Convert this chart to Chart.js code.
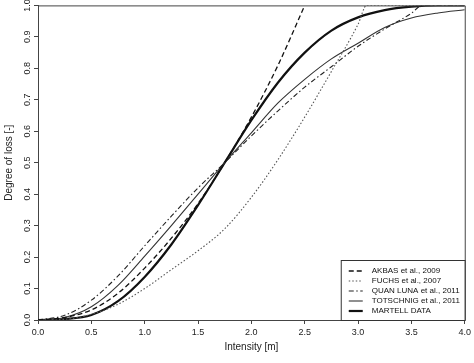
<!DOCTYPE html>
<html>
<head>
<meta charset="utf-8">
<script src="https://cdn.jsdelivr.net/npm/chart.js@4.4.0/dist/chart.umd.min.js"></script>
<style>
  html, body { margin: 0; padding: 0; background: #fff; }
  #wrap { width: 474px; height: 363px; }
</style>
</head>
<body>
<div id="wrap"><canvas id="lossChart"></canvas></div>
<script>

// intensity [m] and degree of loss [-]
var akbasX = [0, 0.25, 0.5, 0.75, 1.0, 1.25, 1.5, 1.75, 2.0, 2.25, 2.5];
var akbasY = [0, 0.008, 0.032, 0.085, 0.165, 0.26, 0.37, 0.50, 0.645, 0.81, 1.0];

var fuchsX = [0, 0.25, 0.5, 0.75, 1.0, 1.25, 1.5, 1.75, 2.0, 2.25, 2.5, 2.75, 3.0, 3.08, 3.5, 4.0];
var fuchsY = [0, 0.002, 0.018, 0.05, 0.1, 0.16, 0.22, 0.29, 0.39, 0.51, 0.645, 0.79, 0.94, 1.0, 1.0, 1.0];

var quanX = [0, 0.25, 0.5, 0.75, 1.0, 1.25, 1.5, 1.75, 2.0, 2.25, 2.5, 2.75, 3.0, 3.25, 3.5, 3.6, 4.0];
var quanY = [0, 0.015, 0.063, 0.14, 0.236, 0.33, 0.42, 0.50, 0.585, 0.665, 0.74, 0.805, 0.87, 0.925, 0.975, 1.0, 1.0];

var totschnigX = [0, 0.25, 0.5, 0.75, 1.0, 1.25, 1.5, 1.75, 2.0, 2.25, 2.5, 2.75, 3.0, 3.25, 3.5, 3.75, 4.0];
var totschnigY = [0, 0.008, 0.042, 0.11, 0.203, 0.30, 0.40, 0.50, 0.595, 0.69, 0.765, 0.83, 0.88, 0.93, 0.96, 0.976, 0.986];

var martellX = [0, 0.25, 0.5, 0.75, 1.0, 1.25, 1.5, 1.75, 2.0, 2.25, 2.5, 2.75, 3.0, 3.25, 3.5, 3.75, 4.0];
var martellY = [0, 0.003, 0.016, 0.06, 0.137, 0.24, 0.365, 0.50, 0.635, 0.755, 0.85, 0.92, 0.962, 0.985, 0.996, 1.0, 1.0];

var seriesNames = ["AKBAS et al., 2009", "FUCHS et al., 2007", "QUAN LUNA et al., 2011", "TOTSCHNIG et al., 2011", "MARTELL DATA"];

function toPoints(xs, ys) {
  var pts = [];
  for (var i = 0; i < xs.length; i++) {
    pts.push({ x: xs[i], y: ys[i] });
  }
  return pts;
}

// legend box in the lower right corner, drawn like the R one
var boxLegend = {
  id: "boxLegend",
  afterDatasetsDraw: function(chart) {
    var ctx = chart.ctx;
    var area = chart.chartArea;
    var sets = chart.data.datasets;
    var w = 124, rowH = 10;
    var h = sets.length * rowH + 10;
    var x0 = area.right - w, y0 = area.bottom - h;

    ctx.save();
    ctx.fillStyle = "#fff";
    ctx.fillRect(x0, y0, w, h);
    ctx.strokeStyle = "#333";
    ctx.lineWidth = 1;
    ctx.strokeRect(x0 + 0.5, y0 + 0.5, w, h);

    ctx.font = "8px 'Liberation Sans', Arial, sans-serif";
    ctx.textBaseline = "middle";
    ctx.fillStyle = "#111";
    for (var i = 0; i < sets.length; i++) {
      var ds = sets[i];
      var yy = y0 + 11 + i * rowH;
      ctx.beginPath();
      ctx.setLineDash(ds.borderDash || []);
      ctx.strokeStyle = ds.borderColor;
      ctx.lineWidth = ds.borderWidth;
      ctx.moveTo(x0 + 8, yy);
      ctx.lineTo(x0 + 22, yy);
      ctx.stroke();
      ctx.setLineDash([]);
      ctx.fillText(ds.label, x0 + 31, yy);
    }
    ctx.restore();
  }
};

var frameBox = {
  id: "frameBox",
  afterDraw: function(chart) {
    var ctx = chart.ctx;
    var a = chart.chartArea;
    ctx.save();
    ctx.strokeStyle = "#444";
    ctx.lineWidth = 1;
    ctx.beginPath();
    ctx.moveTo(a.left, a.top + 0.5);
    ctx.lineTo(a.right + 0.5, a.top + 0.5);
    ctx.lineTo(a.right + 0.5, a.bottom);
    ctx.stroke();
    ctx.restore();
  }
};

function init() {

  var ctx = document.getElementById("lossChart").getContext("2d");

  var chart = new Chart(ctx, {
    type: "line",
    data: {
      datasets: [
        {
          label: seriesNames[0],
          data: toPoints(akbasX, akbasY),
          borderColor: "#111",
          borderWidth: 1.3,
          borderDash: [5, 3]
        },
        {
          label: seriesNames[1],
          data: toPoints(fuchsX, fuchsY),
          borderColor: "#555",
          borderWidth: 1.1,
          borderDash: [1.5, 2]
        },
        {
          label: seriesNames[2],
          data: toPoints(quanX, quanY),
          borderColor: "#222",
          borderWidth: 1.1,
          borderDash: [5, 2.5, 1.5, 2.5]
        },
        {
          label: seriesNames[3],
          data: toPoints(totschnigX, totschnigY),
          borderColor: "#333",
          borderWidth: 1.1
        },
        {
          label: seriesNames[4],
          data: toPoints(martellX, martellY),
          borderColor: "#111",
          borderWidth: 2.2
        }
      ]
    },
    options: {
      responsive: false,
      animation: false,
      devicePixelRatio: 1,
      layout: { padding: { top: 5, right: 9, left: 0, bottom: 0 } },
      elements: {
        point: { radius: 0 },
        line: { cubicInterpolationMode: "monotone", fill: false }
      },
      plugins: {
        legend: { display: false },
        tooltip: { enabled: false }
      },
      scales: {
        x: {
          type: "linear",
          min: 0,
          max: 4,
          afterFit: function(scale) { scale.height = 43; },
          grid: { display: true, drawOnChartArea: false, tickLength: 4, color: "#444" },
          border: { display: true, color: "#444", width: 1 },
          ticks: {
            stepSize: 0.5,
            padding: 3,
            color: "#222",
            font: { family: "'Liberation Sans', Arial, sans-serif", size: 9 },
            maxRotation: 0,
            callback: function(v) { return v.toFixed(1); }
          },
          title: {
            display: true,
            text: "Intensity [m]",
            color: "#222",
            padding: { top: 10, bottom: 10 },
            font: { family: "'Liberation Sans', Arial, sans-serif", size: 10 }
          }
        },
        y: {
          type: "linear",
          min: 0,
          max: 1,
          afterFit: function(scale) { scale.width = 38; },
          grid: { display: true, drawOnChartArea: false, tickLength: 4, color: "#444" },
          border: { display: true, color: "#444", width: 1 },
          ticks: {
            stepSize: 0.1,
            padding: 0,
            minRotation: 90,
            maxRotation: 90,
            crossAlign: "center",
            color: "#222",
            font: { family: "'Liberation Sans', Arial, sans-serif", size: 9 },
            callback: function(v) { return v.toFixed(1); }
          },
          title: {
            display: true,
            text: "Degree of loss [-]",
            color: "#222",
            padding: { top: 3, bottom: 3 },
            font: { family: "'Liberation Sans', Arial, sans-serif", size: 10 }
          }
        }
      }
    },
    plugins: [boxLegend, frameBox]
  });

  chart.canvas.style.width = "474px";
  chart.canvas.style.height = "363px";
}

document.getElementById("lossChart").width = 474;
document.getElementById("lossChart").height = 363;
init();

</script>
</body>
</html>
